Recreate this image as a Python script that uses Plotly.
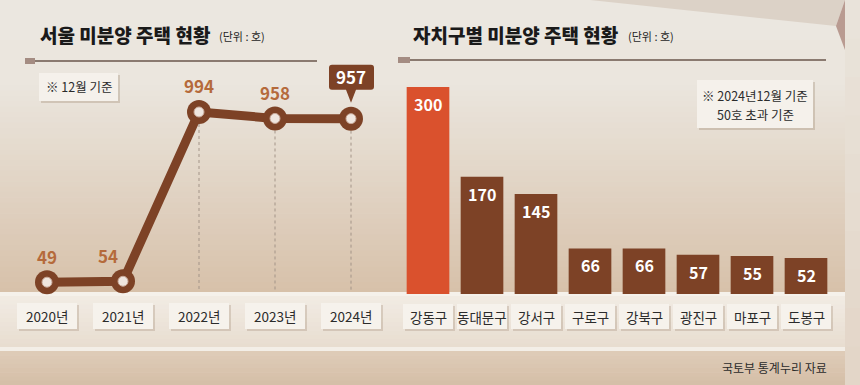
import plotly.graph_objects as go

# ---------------- data ----------------
years = ["2020년", "2021년", "2022년", "2023년", "2024년"]
seoul_units = [49, 54, 994, 958, 957]
districts = ["강동구", "동대문구", "강서구", "구로구", "강북구", "광진구", "마포구", "도봉구"]
district_units = [300, 170, 145, 66, 66, 57, 55, 52]

# ---------------- style / geometry ----------------
W, H = 860, 385
FONT = "Noto Sans CJK KR"
BROWN = "#7d4226"
ORANGE = "#da512d"
LABEL = "#b56a3b"
TEXT = "#2b2b2b"

L_X0, L_DX = 47, 76          # pixel of first year, spacing
L_BASE, L_SCALE = 291, 0.1801  # pixel of zero, px per unit
R_X0, R_DX = 428, 54
R_BASE, R_SCALE = 294, 0.69


def px(x):
    return x / W


def py(y):
    return 1 - y / H


def hx(c):
    c = c.lstrip("#")
    return [int(c[i:i + 2], 16) for i in (0, 2, 4)]


def mix(c0, c1, t):
    a, b = hx(c0), hx(c1)
    return "rgb(%d,%d,%d)" % tuple(round(a[i] + (b[i] - a[i]) * t) for i in range(3))


shapes = []


def rect(x0, y0, x1, y1, color, layer="below"):
    shapes.append(dict(type="rect", xref="paper", yref="paper",
                       x0=px(x0), x1=px(x1), y0=py(y1), y1=py(y0),
                       fillcolor=color, line=dict(width=0), layer=layer))


def vgrad(y0, y1, c0, c1, n, x0=0, x1=W):
    step = (y1 - y0) / n
    for k in range(n):
        rect(x0, y0 + k * step, x1, y0 + (k + 1) * step + 0.6, mix(c0, c1, k / max(n - 1, 1)))


# background
vgrad(0, 80, "#ebe7e0", "#ebe6de", 2)
vgrad(80, 293, "#ebe6de", "#d7c1aa", 40)
rect(0, 292, W, 296, "#f5f1eb")
vgrad(296, 348, "#f1ebe3", "#e8ddd0", 12)
rect(0, 347, W, 351, "#f3eee7")
vgrad(351, 385, "#decbb7", "#d5bfa8", 8)
# right edge strip and top-right corner decoration
vgrad(0, 385, "#e9e3da", "#e3d6c8", 10, 845, W)
shapes.append(dict(type="path", xref="paper", yref="paper", layer="below",
                   path="M %f,%f L %f,%f L %f,%f Z" % (px(590), py(0), px(845), py(0), px(836), py(26)),
                   fillcolor="#dcd2c7", line=dict(width=0)))
shapes.append(dict(type="path", xref="paper", yref="paper", layer="below",
                   path="M %f,%f L %f,%f L %f,%f Z" % (px(845), py(0), px(836), py(26), px(845), py(50)),
                   fillcolor="#b99b91", line=dict(width=0)))

# title rules with knobs
shapes.append(dict(type="line", xref="paper", yref="paper", x0=px(28), x1=px(317), y0=py(61), y1=py(61),
                   line=dict(color="#8a7a70", width=2), layer="below"))
rect(25, 58, 35, 64, "#a48c82")
shapes.append(dict(type="line", xref="paper", yref="paper", x0=px(400), x1=px(826), y0=py(60), y1=py(60),
                   line=dict(color="#8a7a70", width=2), layer="below"))
rect(398, 57, 410, 63, "#a48c82")

# note boxes
rect(41, 75, 120, 103, "rgba(120,90,60,0.22)")
rect(39, 73, 118, 101, "#f5f1eb")
rect(699, 82, 815, 130, "rgba(120,90,60,0.22)")
rect(697, 80, 813, 128, "#f5f1eb")

# dotted guide lines from the upper points
for i, v in enumerate(seoul_units):
    if v > 500:
        shapes.append(dict(type="line", xref="x", yref="y", x0=i, x1=i, y0=v, y1=0,
                           line=dict(color="#a39488", width=1, dash="dot"), layer="below"))

# category label boxes
for i in range(len(years)):
    shapes.append(dict(type="rect", xref="x", xsizemode="pixel", xanchor=i, x0=-28, x1=32,
                       yref="paper", y0=py(331), y1=py(305), fillcolor="rgba(120,90,60,0.2)",
                       line=dict(width=0), layer="above"))
    shapes.append(dict(type="rect", xref="x", xsizemode="pixel", xanchor=i, x0=-30, x1=30,
                       yref="paper", y0=py(329), y1=py(303), fillcolor="#f6f2ec",
                       line=dict(width=0), layer="above"))
for i in range(len(districts)):
    shapes.append(dict(type="rect", xref="x2", xsizemode="pixel", xanchor=i, x0=-23, x1=27,
                       yref="paper", y0=py(331), y1=py(306), fillcolor="rgba(120,90,60,0.2)",
                       line=dict(width=0), layer="above"))
    shapes.append(dict(type="rect", xref="x2", xsizemode="pixel", xanchor=i, x0=-25, x1=25,
                       yref="paper", y0=py(329), y1=py(304), fillcolor="#f6f2ec",
                       line=dict(width=0), layer="above"))

# callout for latest value
last = len(years) - 1
shapes.append(dict(type="path", xref="x", yref="y", xsizemode="pixel", ysizemode="pixel",
                   xanchor=last, yanchor=seoul_units[last],
                   path="M -19,29 L -5,29 L 0,16 L 5,29 L 20,29 Q 23,29 23,32 L 23,51 Q 23,54 20,54 "
                        "L -19,54 Q -22,54 -22,51 L -22,32 Q -22,29 -19,29 Z",
                   fillcolor=BROWN, line=dict(width=0), layer="above"))

# ---------------- traces ----------------
fig = go.Figure()
fig.add_trace(go.Scatter(x=years, y=seoul_units, mode="lines+markers", xaxis="x", yaxis="y",
                         line=dict(color=BROWN, width=9),
                         marker=dict(size=24, color=BROWN), hoverinfo="skip", showlegend=False))
fig.add_trace(go.Scatter(x=years, y=seoul_units, mode="markers", xaxis="x", yaxis="y",
                         marker=dict(size=10, color="#efe6df", line=dict(color="#c9a999", width=1)),
                         hoverinfo="skip", showlegend=False))
fig.add_trace(go.Bar(x=districts, y=district_units, xaxis="x2", yaxis="y2", width=0.79,
                     marker=dict(color=[ORANGE] + [BROWN] * (len(districts) - 1), line=dict(width=0)),
                     hoverinfo="skip", showlegend=False))

# ---------------- annotations ----------------
C = dict(xanchor="center", yanchor="middle", showarrow=False)
ann = []
for i, (yr, v) in enumerate(zip(years, seoul_units)):
    ann.append(dict(C, xref="x", yref="paper", x=i, y=py(316), text=yr,
                    font=dict(family=FONT, size=13.5, color=TEXT)))
    if i < last:
        ann.append(dict(C, xref="x", yref="y", x=i, y=v, text=str(v),
                        yshift=26, xshift=-15 if i == 1 else 0,
                        font=dict(family=FONT, size=17, color=LABEL, weight=700)))
    else:
        ann.append(dict(C, xref="x", yref="y", x=i, y=v, text=str(v),
                        yshift=42, font=dict(family=FONT, size=17, color="white", weight=700)))

for i, (d, v) in enumerate(zip(districts, district_units)):
    ann.append(dict(C, xref="x2", yref="paper", x=i, y=py(316.5), text=d,
                    font=dict(family=FONT, size=13.5, color=TEXT)))
    ann.append(dict(C, xref="x2", yref="y2", x=i, y=v, text=str(v), yshift=-17,
                    font=dict(family=FONT, size=16, color="white", weight=700)))

ann += [
    dict(C, xref="paper", yref="paper", x=px(38), y=py(34), xanchor="left", text="서울 미분양 주택 현황",
         font=dict(family=FONT, size=19, color="#1a1a1a", weight=900)),
    dict(C, xref="paper", yref="paper", x=px(217), y=py(36), xanchor="left", text="(단위 : 호)",
         font=dict(family=FONT, size=11, color="#1e1e1e")),
    dict(C, xref="paper", yref="paper", x=px(411), y=py(34), xanchor="left", text="자치구별 미분양 주택 현황",
         font=dict(family=FONT, size=19, color="#1a1a1a", weight=900)),
    dict(C, xref="paper", yref="paper", x=px(626), y=py(36), xanchor="left", text="(단위 : 호)",
         font=dict(family=FONT, size=11, color="#1e1e1e")),
    dict(C, xref="paper", yref="paper", x=px(78.5), y=py(87), text="※ 12월 기준",
         font=dict(family=FONT, size=12.5, color=TEXT)),
    dict(C, xref="paper", yref="paper", x=px(755), y=py(96), text="※ 2024년12월 기준",
         font=dict(family=FONT, size=12.5, color=TEXT)),
    dict(C, xref="paper", yref="paper", x=px(755), y=py(114), text="50호 초과 기준",
         font=dict(family=FONT, size=12.5, color=TEXT)),
    dict(C, xref="paper", yref="paper", x=px(829), y=py(367), xanchor="right", text="국토부 통계누리 자료",
         font=dict(family=FONT, size=12, color=TEXT)),
]

hidden = dict(visible=False, fixedrange=True, showgrid=False, zeroline=False)
fig.update_layout(
    width=W, height=H, margin=dict(l=0, r=0, t=0, b=0),
    paper_bgcolor="#ebe6de", plot_bgcolor="rgba(0,0,0,0)",
    shapes=shapes, annotations=ann, showlegend=False,
    xaxis=dict(hidden, domain=[0, 1], type="category",
               range=[(0 - L_X0) / L_DX, (W - L_X0) / L_DX]),
    yaxis=dict(hidden, domain=[0, 1],
               range=[(L_BASE - H) / L_SCALE, L_BASE / L_SCALE]),
    xaxis2=dict(hidden, domain=[0, 1], type="category", overlaying="x", anchor="y2",
                range=[(0 - R_X0) / R_DX, (W - R_X0) / R_DX]),
    yaxis2=dict(hidden, domain=[0, 1], overlaying="y", anchor="x2",
                range=[(R_BASE - H) / R_SCALE, R_BASE / R_SCALE]),
)

fig.write_html("out.html", config=dict(displayModeBar=False, staticPlot=True),
               post_script="document.body.style.margin='0';document.body.style.overflow='hidden';")
